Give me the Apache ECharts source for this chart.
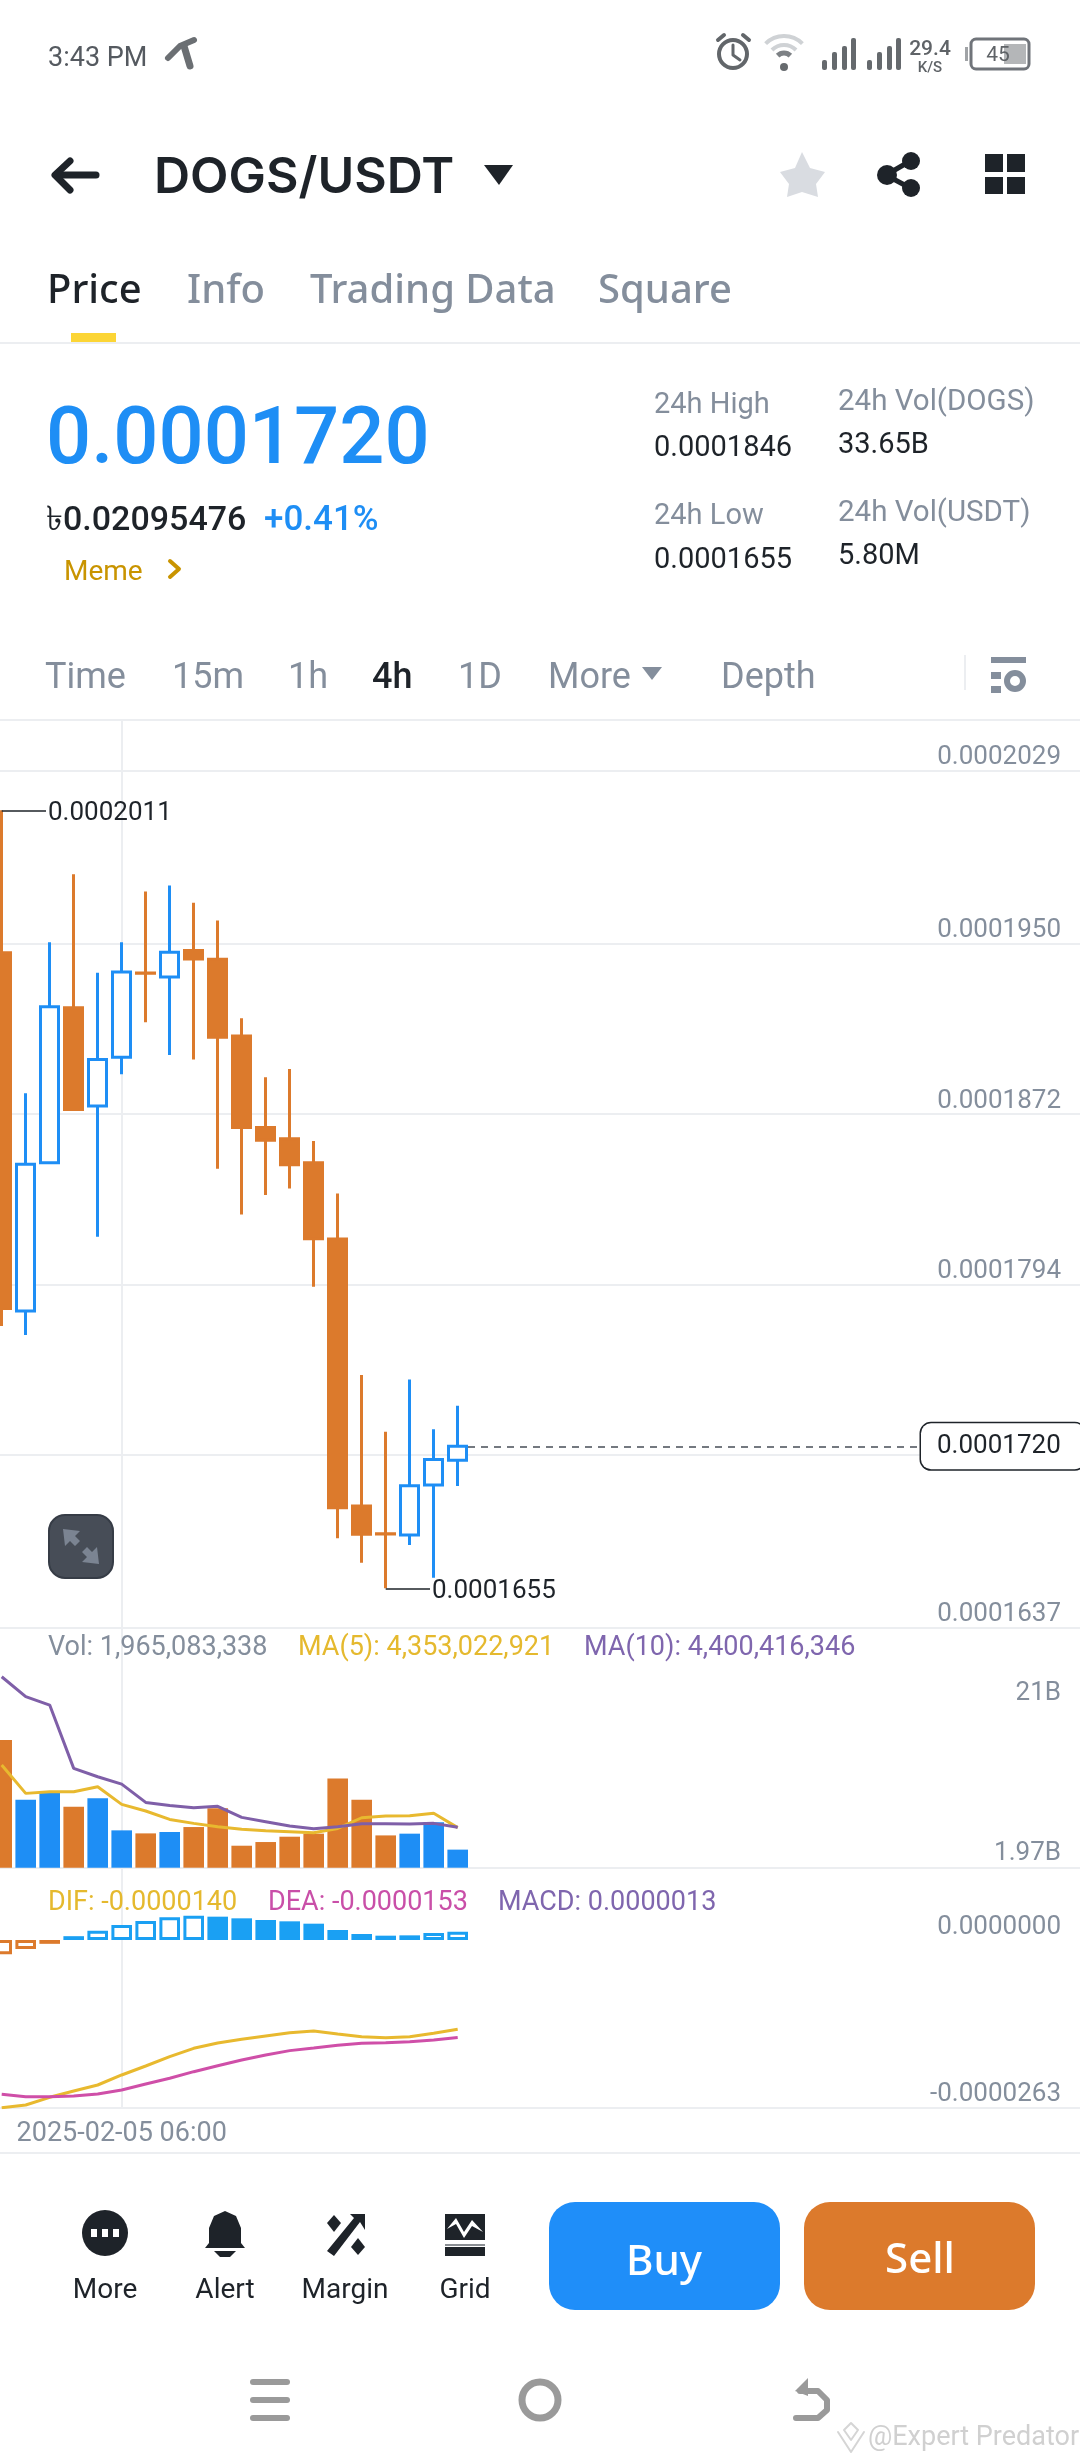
<!DOCTYPE html>
<html>
<head>
<meta charset="utf-8">
<title>DOGS/USDT</title>
<script src="https://cdn.jsdelivr.net/npm/echarts@6/dist/echarts.min.js"></script>
<style>
  html, body { margin: 0; padding: 0; background: #fff; }
  #main { width: 1080px; height: 2460px; }
</style>
</head>
<body>
<div id="main"></div>
<script>
const times = ['2025-02-04 10:00','2025-02-04 14:00','2025-02-04 18:00','2025-02-04 22:00','2025-02-05 02:00',
  '2025-02-05 06:00','2025-02-05 10:00','2025-02-05 14:00','2025-02-05 18:00','2025-02-05 22:00',
  '2025-02-06 02:00','2025-02-06 06:00','2025-02-06 10:00','2025-02-06 14:00','2025-02-06 18:00',
  '2025-02-06 22:00','2025-02-07 02:00','2025-02-07 06:00','2025-02-07 10:00','2025-02-07 14:00'];

const opens  = [0.00019458,0.00017819,0.00018497,0.00019207,0.00018757,0.00018980,0.00019365,0.00019347,0.00019468,0.00019428,
                0.00019077,0.00018658,0.00018607,0.00018497,0.00018148,0.00016927,0.00016800,0.00016794,0.00017023,0.00017136];
const closes = [0.00017831,0.00018490,0.00019211,0.00018741,0.00018970,0.00019370,0.00019364,0.00019460,0.00019429,0.00019071,
                0.00018659,0.00018600,0.00018488,0.00018150,0.00016919,0.00016797,0.00016799,0.00017020,0.00017140,0.00017200];
const lows   = [0.00017750,0.00017709,0.00018491,0.00018741,0.00018159,0.00018902,0.00019140,0.00018990,0.00018970,0.00018470,
                0.00018261,0.00018350,0.00018380,0.00017930,0.00016779,0.00016667,0.00016550,0.00016748,0.00016599,0.00017018];
const highs  = [0.00020110,0.00018815,0.00019506,0.00019817,0.00019367,0.00019506,0.00019738,0.00019766,0.00019687,0.00019606,
                0.00019158,0.00018888,0.00018926,0.00018597,0.00018357,0.00017526,0.00017267,0.00017506,0.00017278,0.00017386];

const volumes = [13.88,7.39,8.33,6.63,7.54,4.06,3.73,3.88,4.42,6.45,2.39,2.79,3.37,3.70,9.71,7.39,3.51,3.70,4.93,1.965];
const ma5  = [11.16,8.08,8.26,8.26,8.80,6.88,6.16,5.25,4.82,4.46,4.17,4.02,3.91,3.80,4.27,5.43,5.62,5.65,5.91,4.353];
const ma10 = [20.76,18.59,17.68,10.80,9.89,9.09,7.10,6.77,6.52,6.67,5.47,5.00,4.53,4.24,4.46,4.78,4.78,4.75,4.82,4.40];

const macd = [-0.00000225,-0.00000140,-0.00000060,0.00000060,0.00000146,0.00000235,0.00000298,0.00000355,0.00000382,0.00000366,
              0.00000340,0.00000314,0.00000293,0.00000256,0.00000157,0.00000094,0.00000068,0.00000073,0.00000110,0.00000130];
const dif  = [-0.00002630,-0.00002588,-0.00002467,-0.00002368,-0.00002274,-0.00002117,-0.00001976,-0.00001830,-0.00001699,-0.00001615,
              -0.00001558,-0.00001505,-0.00001453,-0.00001427,-0.00001474,-0.00001516,-0.00001532,-0.00001516,-0.00001464,-0.00001400];
const dea  = [-0.00002420,-0.00002457,-0.00002457,-0.00002446,-0.00002415,-0.00002352,-0.00002258,-0.00002169,-0.00002065,-0.00001971,
              -0.00001882,-0.00001803,-0.00001735,-0.00001694,-0.00001652,-0.00001620,-0.00001610,-0.00001594,-0.00001568,-0.00001530];

const priceLabels = [0.0002029,0.0001950,0.0001872,0.0001794,0.0001716,0.0001637];
const priceLabelTexts = ['0.0002029','0.0001950','0.0001872','0.0001794','','0.0001637'];
const priceTop = 0.00020523;
const priceBottom = 0.0001637;
const volTicks = [21,1.97];
const volTickTexts = ['21B','1.97B'];
const macdTicks = [0,-0.0000263];
const macdMax = 0.00001134;

const highPoint = 0.0002011;
const lowPoint = 0.0001655;
const lastPrice = 0.000172;

const BLUE = '#1e8ef5';
const ORANGE = '#dc7a2c';
const DARK = '#1e2329';
const GRAY = '#848e9c';
const LINE = '#eceef1';
const NUM_FONT = 'Roboto, "Noto Sans", sans-serif';
const SANS_FONT = '"Noto Sans", Roboto, sans-serif';

const bandCount = 46;
const categories = times.slice();
while (categories.length < bandCount) categories.push('');

const candles = opens.map((o, i) => [o, closes[i], lows[i], highs[i]]);
const volBars = volumes.map((v, i) => ({
  value: v,
  itemStyle: {color: closes[i] > opens[i] ? BLUE : ORANGE}
}));
const macdBars = macd.map((v, i) => {
  const c = v >= 0 ? '#1aa0f3' : ORANGE;
  const rising = i === 0 || v > macd[i - 1];
  return {
    value: v,
    itemStyle: rising ? {color: '#fff', borderColor: c, borderWidth: 3} : {color: c}
  };
});

function txt(x, y, text, size, fill, extra) {
  extra = extra || {};
  return {
    type: 'text', x: x, y: y + 3, z: 22, silent: true,
    style: {
      text: text, fill: fill, fontSize: size,
      fontFamily: extra.family || SANS_FONT, fontWeight: extra.weight || 400,
      align: extra.align || 'left', verticalAlign: 'middle'
    }
  };
}
function poly(points, fill) {
  return {type: 'polygon', z: 20, silent: true, shape: {points: points}, style: {fill: fill}};
}
function stroke(points, color, width) {
  return {type: 'polyline', z: 20, silent: true, shape: {points: points},
    style: {stroke: color, lineWidth: width, fill: 'none', lineCap: 'round', lineJoin: 'round'}};
}
function rect(x, y, w, h, fill, r) {
  return {type: 'rect', z: 21, silent: true, shape: {x: x, y: y, width: w, height: h, r: r || 0}, style: {fill: fill}};
}
function circle(cx, cy, r, fill, strokeColor, width) {
  return {type: 'circle', z: 20, silent: true, shape: {cx: cx, cy: cy, r: r},
    style: {fill: fill || 'none', stroke: strokeColor || 'none', lineWidth: width || 0}};
}
function arc(cx, cy, r, color, width) {
  return {type: 'arc', z: 20, silent: true,
    shape: {cx: cx, cy: cy, r: r, startAngle: Math.PI * 1.25, endAngle: Math.PI * 1.75, clockwise: true},
    style: {stroke: color, lineWidth: width, fill: 'none'}};
}

const chrome = [
  // status bar
  txt(48, 56, '3:43 PM', 27, '#555a60', {family: NUM_FONT}),
  stroke([[168, 58], [180, 46], [194, 40]], '#6b6f73', 6),
  stroke([[184, 46], [190, 66]], '#6b6f73', 7),
  circle(733, 54, 14, 'none', '#62666a', 4),
  stroke([[733, 45], [733, 55], [740, 60]], '#62666a', 3),
  stroke([[718, 40], [724, 35]], '#62666a', 4),
  stroke([[743, 35], [749, 40]], '#62666a', 4),
  arc(784, 62, 26, '#cfd2d5', 4),
  arc(784, 62, 17, '#cfd2d5', 4),
  arc(784, 62, 9, '#7d8185', 5),
  circle(784, 67, 4, '#666a6e'),
  rect(822, 60, 5, 10, '#65696d', 2), rect(832, 52, 5, 18, '#65696d', 2),
  rect(842, 46, 5, 24, '#65696d', 2), rect(851, 38, 5, 32, '#65696d', 2),
  rect(867, 60, 5, 10, '#65696d', 2), rect(877, 52, 5, 18, '#65696d', 2),
  rect(887, 46, 5, 24, '#65696d', 2), rect(896, 38, 5, 32, '#65696d', 2),
  txt(930, 47, '29.4', 21, '#5f6367', {family: NUM_FONT, align: 'center', weight: 500}),
  txt(930, 65, 'K/S', 15, '#5f6367', {family: NUM_FONT, align: 'center', weight: 500}),
  {type: 'rect', z: 20, silent: true, shape: {x: 971, y: 39, width: 58, height: 30, r: 5}, style: {fill: 'none', stroke: '#70747a', lineWidth: 3}},
  rect(1004, 44, 22, 20, '#b4b6b8'),
  rect(965, 47, 3, 14, '#a0a3a6'),
  txt(998, 53, '45', 21, '#5f6367', {family: NUM_FONT, align: 'center'}),

  // header
  stroke([[96, 175], [56, 175]], DARK, 7),
  stroke([[70, 161], [55, 175], [70, 190]], DARK, 7),
  txt(154, 175, 'DOGS/USDT', 50, DARK, {family: 'Inter, Roboto, sans-serif', weight: 600}),
  poly([[484, 165], [513, 165], [499, 185]], DARK),
  poly([[802, 152], [810, 168], [825, 172], [816, 184], [818, 197], [802, 192], [787, 197], [789, 184], [780, 172], [795, 168]], '#d9dce1'),
  stroke([[912, 160], [886, 175], [912, 189]], DARK, 5),
  circle(911, 161, 9, DARK), circle(887, 175, 10, DARK), circle(911, 188, 9, DARK),
  rect(985, 154, 18, 18, DARK), rect(1007, 154, 18, 18, DARK),
  rect(985, 177, 18, 17, DARK), rect(1007, 177, 18, 17, DARK),

  // tabs
  txt(47, 289, 'Price', 40, DARK, {weight: 500}),
  txt(187, 289, 'Info', 40, GRAY, {weight: 500}),
  txt(310, 289, 'Trading Data', 40, GRAY, {weight: 500}),
  txt(598, 289, 'Square', 40, GRAY, {weight: 500}),
  rect(71, 333, 45, 9, '#fcd535'),
  rect(0, 342, 1080, 2, LINE),

  // ticker
  txt(46, 440, '0.0001720', 79.5, BLUE, {family: NUM_FONT, weight: 500}),
  txt(46, 518, '৳0.02095476', 34, DARK, {family: NUM_FONT, weight: 500}),
  txt(264, 518, '+0.41%', 35, BLUE, {family: NUM_FONT, weight: 500}),
  txt(64, 570, 'Meme', 28, '#c99400', {family: NUM_FONT}),
  stroke([[170, 561], [179, 569], [170, 577]], '#c99400', 4),
  txt(654, 403, '24h High', 29, GRAY, {family: NUM_FONT}),
  txt(654, 446, '0.0001846', 29, DARK, {family: NUM_FONT}),
  txt(654, 514, '24h Low', 29, GRAY, {family: NUM_FONT}),
  txt(654, 558, '0.0001655', 29, DARK, {family: NUM_FONT}),
  txt(838, 400, '24h Vol(DOGS)', 29.5, GRAY, {family: NUM_FONT}),
  txt(838, 443, '33.65B', 29, DARK, {family: NUM_FONT}),
  txt(838, 511, '24h Vol(USDT)', 29.5, GRAY, {family: NUM_FONT}),
  txt(838, 554, '5.80M', 29, DARK, {family: NUM_FONT}),

  // interval tabs
  txt(45, 676, 'Time', 36, GRAY, {family: NUM_FONT}),
  txt(172, 676, '15m', 36, GRAY, {family: NUM_FONT}),
  txt(288, 676, '1h', 36, GRAY, {family: NUM_FONT}),
  txt(372, 676, '4h', 36, DARK, {family: NUM_FONT, weight: 500}),
  txt(458, 676, '1D', 36, GRAY, {family: NUM_FONT}),
  txt(548, 676, 'More', 36, GRAY, {family: NUM_FONT}),
  poly([[642, 667], [662, 667], [652, 680]], GRAY),
  txt(721, 676, 'Depth', 36, GRAY, {family: NUM_FONT}),
  rect(964, 655, 2, 35, LINE),
  rect(991, 657, 35, 6, GRAY),
  rect(991, 672, 10, 7, GRAY), rect(991, 686, 10, 7, GRAY),
  circle(1015, 681, 8, 'none', GRAY, 6),

  // expand button
  {type: 'rect', z: 19, silent: true, shape: {x: 49, y: 1515, width: 64, height: 63, r: 16}, style: {fill: '#474d57', stroke: '#363c46', lineWidth: 2}},
  poly([[63, 1529], [80, 1531], [75, 1536], [80, 1541], [75, 1546], [70, 1541], [65, 1546]], '#7b8492'),
  poly([[99, 1564], [82, 1562], [87, 1557], [82, 1552], [87, 1547], [92, 1552], [97, 1547]], '#7b8492'),

  // chart legends
  txt(48, 1645, 'Vol: 1,965,083,338', 27, GRAY, {family: NUM_FONT}),
  txt(298, 1645, 'MA(5): 4,353,022,921', 27, '#e5b92e', {family: NUM_FONT}),
  txt(584, 1645, 'MA(10): 4,400,416,346', 27, '#7f66ae', {family: NUM_FONT}),
  txt(48, 1900, 'DIF: -0.0000140', 27, '#e5b92e', {family: NUM_FONT}),
  txt(268, 1900, 'DEA: -0.0000153', 27, '#c94fa8', {family: NUM_FONT}),
  txt(498, 1900, 'MACD: 0.0000013', 27, '#7f66ae', {family: NUM_FONT}),

  // bottom bar
  rect(0, 2152, 1080, 2, LINE),
  circle(105, 2233, 23, DARK),
  rect(91, 2229, 6, 8, '#fff'), rect(102, 2229, 6, 8, '#fff'), rect(113, 2229, 6, 8, '#fff'),
  txt(105, 2288, 'More', 28, DARK, {align: 'center', family: NUM_FONT}),
  poly([[225, 2211], [236, 2216], [241, 2228], [241, 2243], [245, 2248], [205, 2248], [209, 2243], [209, 2228], [214, 2216]], DARK),
  poly([[214, 2251], [236, 2251], [230, 2257], [220, 2257]], DARK),
  txt(225, 2288, 'Alert', 28, DARK, {align: 'center', family: NUM_FONT}),
  poly([[350, 2214], [365, 2214], [365, 2230], [360, 2222], [334, 2256], [327, 2251], [354, 2218]], DARK),
  poly([[334, 2215], [341, 2223], [334, 2232], [327, 2223]], DARK),
  poly([[358, 2238], [365, 2247], [358, 2255], [351, 2247]], DARK),
  txt(345, 2288, 'Margin', 28, DARK, {align: 'center', family: NUM_FONT}),
  poly([[445, 2214], [485, 2214], [485, 2240], [445, 2240]], DARK),
  poly([[447, 2229], [456, 2218], [464, 2232], [472, 2220], [483, 2232], [472, 2226], [464, 2238], [456, 2224]], '#fff'),
  rect(445, 2244, 40, 2, '#8a8e93'),
  rect(445, 2247, 40, 9, DARK),
  txt(465, 2288, 'Grid', 28, DARK, {align: 'center', family: NUM_FONT}),
  rect(549, 2202, 231, 108, '#1f8ef9', 26),
  txt(664, 2260, 'Buy', 42, '#fff', {align: 'center', weight: 500}),
  rect(804, 2202, 231, 108, ORANGE, 26),
  txt(920, 2258, 'Sell', 42, '#fff', {align: 'center', weight: 500}),

  // nav bar
  rect(250, 2379, 40, 6, '#9a9a9a', 3), rect(250, 2397, 40, 6, '#9a9a9a', 3), rect(250, 2415, 40, 6, '#9a9a9a', 3),
  circle(540, 2400, 18, 'none', '#9a9a9a', 7),
  stroke([[800, 2391], [818, 2391], [827, 2400], [827, 2410], [818, 2418], [796, 2418]], '#9a9a9a', 6),
  poly([[808, 2378], [795, 2391], [808, 2396]], '#9a9a9a'),

  // watermark
  stroke([[838, 2432], [851, 2452], [864, 2432]], '#d5d5d5', 2),
  stroke([[844, 2430], [851, 2440], [858, 2430], [851, 2423], [844, 2430]], '#d5d5d5', 2),
  txt(868, 2435, '@Expert Predator', 27, '#d0d0d0', {family: NUM_FONT})
];

// left is off the canvas: the first candle is cut by the screen edge
const gridBase = {left: -10.3, width: 1104, outerBoundsMode: 'none'};
const vLine = {show: true, interval: (i) => i === 5, alignWithLabel: true, lineStyle: {color: LINE, width: 2}};

function xAxisFor(gridIndex, showLabel) {
  return {
    type: 'category', gridIndex: gridIndex, data: categories,
    axisTick: {show: false},
    axisLine: {show: true, onZero: false, lineStyle: {color: LINE, width: 2}},
    splitLine: vLine,
    axisLabel: showLabel ? {
      show: true, interval: (i) => i === 5, color: GRAY,
      fontFamily: NUM_FONT, fontSize: 27, margin: 13
    } : {show: false}
  };
}

const option = {
  animation: false,
  backgroundColor: '#fff',
  graphic: chrome,
  grid: [
    Object.assign({top: 720, height: 907.7}, gridBase),
    Object.assign({top: 1627.7, height: 240}, gridBase),
    Object.assign({top: 1867.7, height: 240}, gridBase)
  ],
  xAxis: [xAxisFor(0, false), xAxisFor(1, false), xAxisFor(2, true)],
  yAxis: [
    {
      type: 'value', gridIndex: 0, position: 'right', min: priceBottom, max: priceTop, scale: true,
      axisLine: {show: false},
      axisTick: {show: false, customValues: priceLabels.concat([priceTop])},
      splitLine: {show: true, lineStyle: {color: LINE, width: 2}},
      axisLabel: {
        inside: true, margin: 32.7, color: GRAY, fontFamily: NUM_FONT, fontSize: 26,
        verticalAlign: 'bottom', customValues: priceLabels,
        formatter: (v) => priceLabelTexts[priceLabels.indexOf(v)]
      }
    },
    {
      type: 'value', gridIndex: 1, position: 'right', min: 0, max: 26.09,
      axisLine: {show: false}, axisTick: {show: false}, splitLine: {show: false},
      axisLabel: {
        inside: true, margin: 32.7, color: GRAY, fontFamily: NUM_FONT, fontSize: 26,
        customValues: volTicks,
        formatter: (v) => (v === volTicks[0] ? '{a|' : '{b|') + volTickTexts[volTicks.indexOf(v)] + '}',
        rich: {
          a: {color: GRAY, fontFamily: NUM_FONT, fontSize: 26, padding: [38, 0, 0, 0]},
          b: {color: GRAY, fontFamily: NUM_FONT, fontSize: 26, padding: [8, 0, 0, 0]}
        }
      }
    },
    {
      type: 'value', gridIndex: 2, position: 'right', min: macdTicks[1], max: macdMax,
      axisLine: {show: false}, axisTick: {show: false}, splitLine: {show: false},
      axisLabel: {
        inside: true, margin: 32.7, color: GRAY, fontFamily: NUM_FONT, fontSize: 26,
        verticalAlign: 'bottom', customValues: macdTicks,
        formatter: (v) => v.toFixed(7)
      }
    }
  ],
  series: [
    {
      name: 'Price', type: 'candlestick', xAxisIndex: 0, yAxisIndex: 0, data: candles,
      barWidth: 18,
      itemStyle: {color: '#fff', color0: ORANGE, borderColor: BLUE, borderColor0: ORANGE, borderWidth: 3},
      markLine: {
        silent: true, symbol: 'none', animation: false,
        lineStyle: {color: DARK, width: 1.5, type: 'solid'},
        label: {position: 'end', distance: 2, offset: [0, 3], color: DARK, fontFamily: NUM_FONT, fontSize: 26},
        data: [
          [{xAxis: 0, yAxis: highPoint}, {xAxis: 2, x: 46, yAxis: highPoint, label: {formatter: '0.0002011'}}],
          [{xAxis: 16, yAxis: lowPoint}, {xAxis: 18, x: 430, yAxis: lowPoint, label: {formatter: '0.0001655'}}],
          [
            {xAxis: 19, x: 468, yAxis: lastPrice, lineStyle: {color: '#474d57', type: [7, 6], width: 1.5}},
            {
              xAxis: 30, x: 921, yAxis: lastPrice,
              label: {
                formatter: '0.0001720', distance: 0, offset: [0, 0], backgroundColor: '#fff', borderColor: DARK, borderWidth: 1.5,
                borderRadius: 10, padding: [12, 24, 8, 16]
              }
            }
          ]
        ]
      }
    },
    {name: 'Vol', type: 'bar', xAxisIndex: 1, yAxisIndex: 1, data: volBars, barWidth: 20.6},
    {name: 'MA(5)', type: 'line', xAxisIndex: 1, yAxisIndex: 1, data: ma5, showSymbol: false, lineStyle: {color: '#e8b92f', width: 3}},
    {name: 'MA(10)', type: 'line', xAxisIndex: 1, yAxisIndex: 1, data: ma10, showSymbol: false, lineStyle: {color: '#7f5fa8', width: 3}},
    {name: 'MACD', type: 'bar', xAxisIndex: 2, yAxisIndex: 2, data: macdBars, barWidth: 20.6},
    {name: 'DIF', type: 'line', xAxisIndex: 2, yAxisIndex: 2, data: dif, showSymbol: false, lineStyle: {color: '#e8b92f', width: 3}},
    {name: 'DEA', type: 'line', xAxisIndex: 2, yAxisIndex: 2, data: dea, showSymbol: false, lineStyle: {color: '#cf4fa8', width: 3}}
  ]
};

const myChart = echarts.init(document.getElementById('main'));
myChart.setOption(option);
</script>
</body>
</html>
